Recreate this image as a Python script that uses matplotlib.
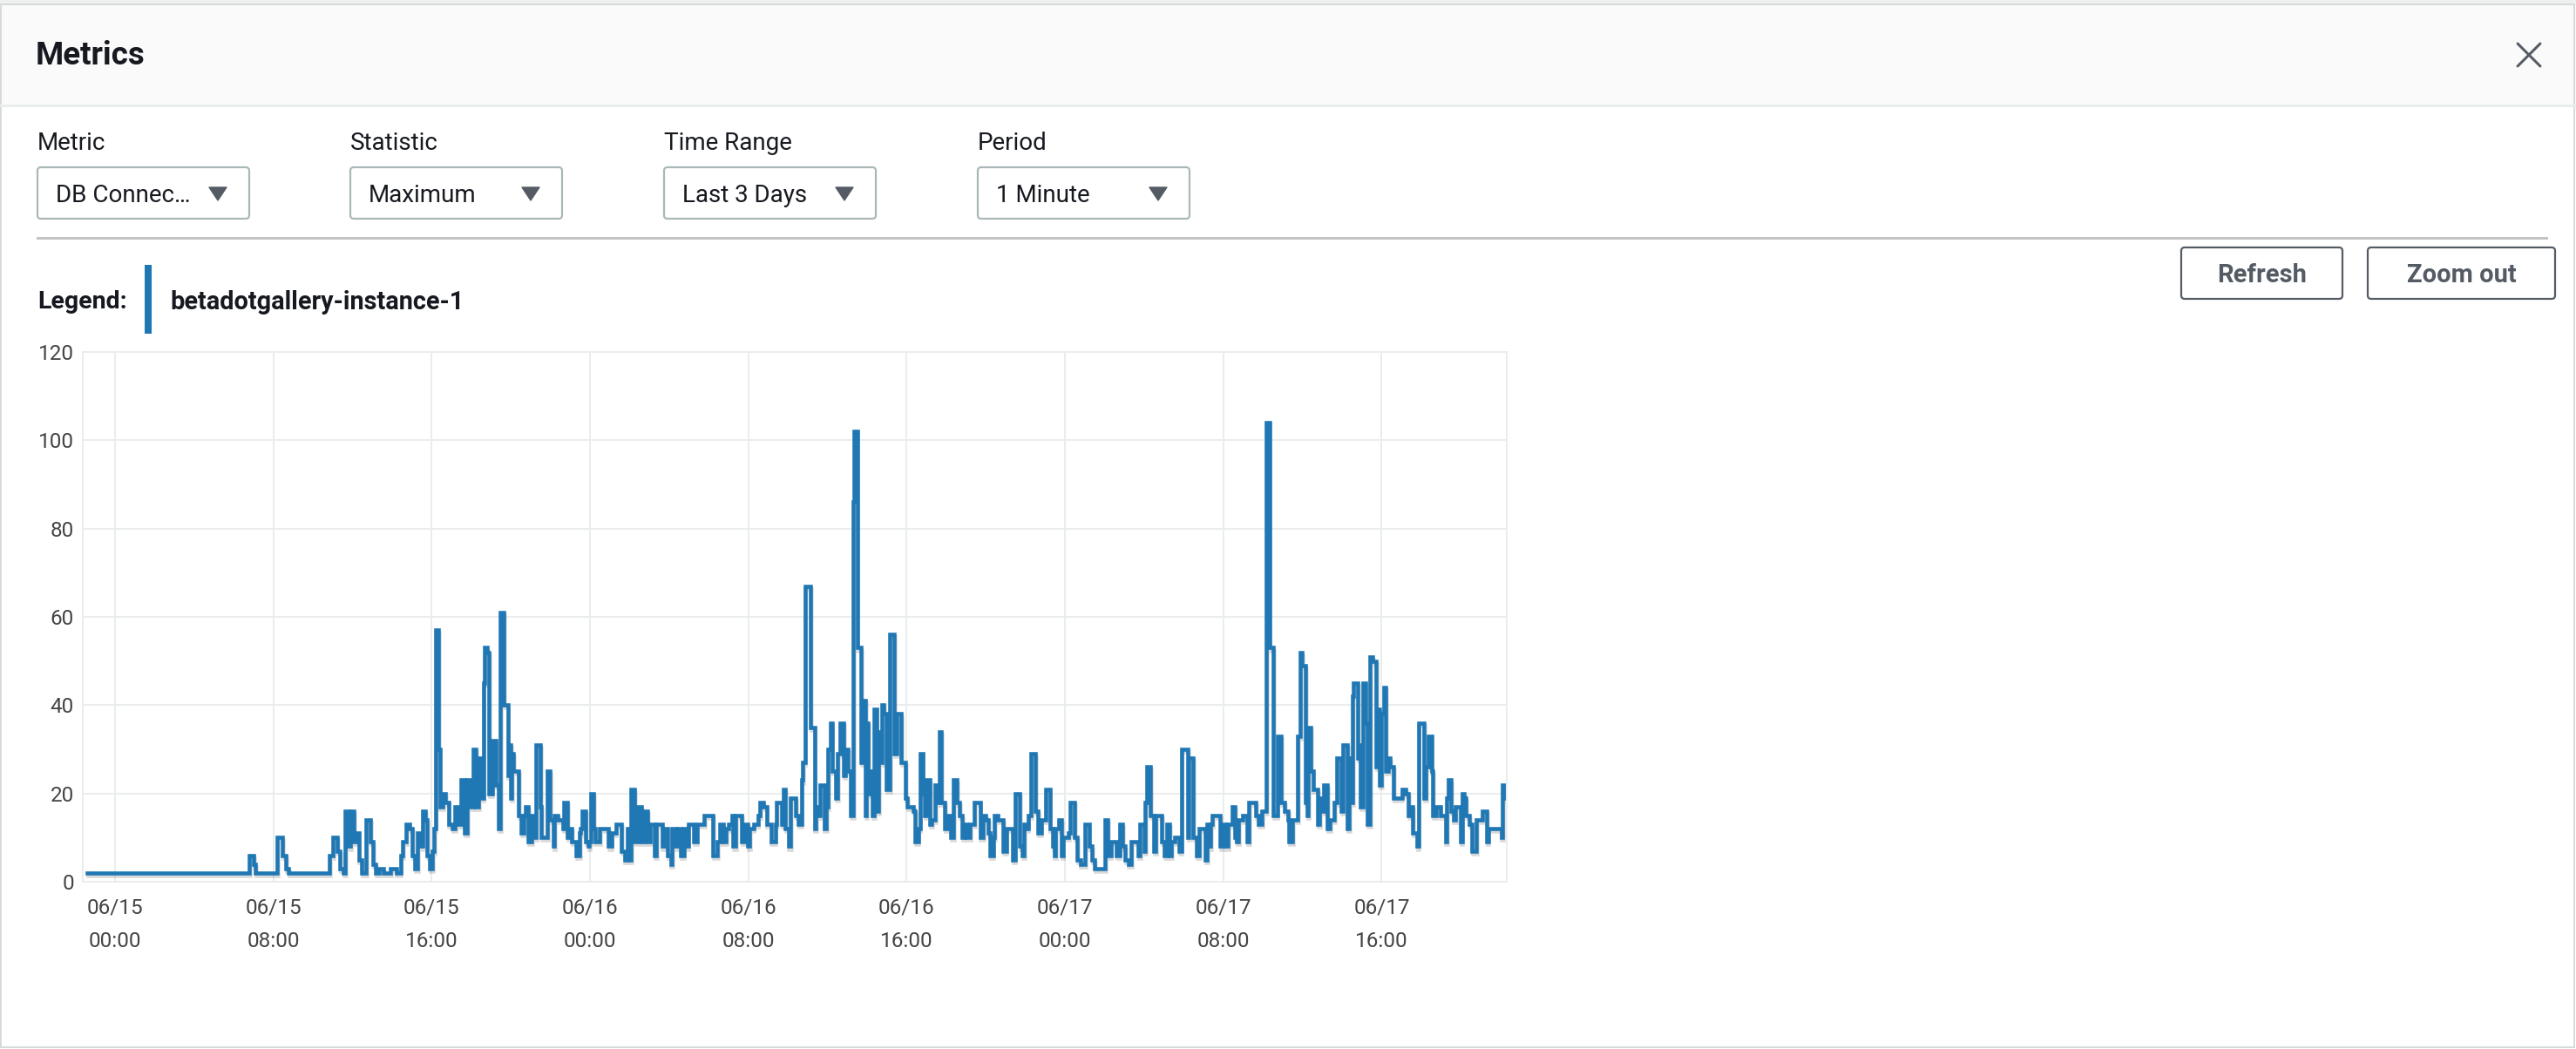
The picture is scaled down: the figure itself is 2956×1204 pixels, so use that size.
import pandas as pd
import matplotlib
matplotlib.use('Agg')
import matplotlib.pyplot as plt
import matplotlib.patheffects as pe
from matplotlib.patches import Rectangle, FancyBboxPatch, Polygon

plt.rcParams['font.family'] = ['Roboto', 'DejaVu Sans']

# hours since 06/15 00:00 where the value changes (step chart, 1 minute max)
hours = [
    -1.39, 6.80, 7.00, 7.10, 8.20, 8.45, 8.64, 8.78, 10.84, 11.03,
    11.23, 11.38, 11.53, 11.64, 11.79, 11.91, 12.06, 12.16, 12.31, 12.45,
    12.67, 12.89, 13.04, 13.19, 13.33, 13.55, 13.92, 14.21, 14.43, 14.55,
    14.70, 14.87, 15.02, 15.14, 15.28, 15.43, 15.53, 15.68, 15.78, 15.90,
    16.02, 16.12, 16.19, 16.34, 16.41, 16.56, 16.71, 16.85, 17.04, 17.19,
    17.29, 17.48, 17.66, 17.78, 17.95, 18.10, 18.25, 18.36, 18.47, 18.61,
    18.69, 18.80, 18.91, 19.05, 19.24, 19.39, 19.48, 19.65, 19.84, 19.90,
    19.98, 20.04, 20.13, 20.38, 20.53, 20.67, 20.75, 20.89, 21.04, 21.19,
    21.26, 21.48, 21.55, 21.85, 21.99, 22.14, 22.21, 22.36, 22.65, 22.70,
    22.87, 22.95, 23.09, 23.31, 23.46, 23.53, 23.61, 23.80, 23.90, 23.97,
    24.05, 24.19, 24.27, 24.49, 24.93, 25.08, 25.30, 25.59, 25.74, 25.88,
    25.96, 26.06, 26.25, 26.44, 26.59, 26.73, 26.91, 27.03, 27.28, 27.35,
    27.64, 27.79, 27.94, 28.08, 28.16, 28.30, 28.45, 28.60, 28.74, 28.89,
    28.96, 29.26, 29.40, 29.77, 30.21, 30.43, 30.58, 30.72, 30.87, 31.02,
    31.16, 31.23, 31.34, 31.67, 31.82, 31.97, 32.07, 32.26, 32.48, 32.60,
    32.77, 32.92, 33.14, 33.36, 33.43, 33.68, 33.77, 33.87, 34.02, 34.14,
    34.39, 34.53, 34.68, 34.75, 34.86, 35.15, 35.34, 35.41, 35.53, 35.63,
    35.83, 35.93, 36.03, 36.15, 36.22, 36.41, 36.52, 36.62, 36.81, 36.88,
    37.03, 37.18, 37.29, 37.35, 37.50, 37.69, 37.79, 37.91, 37.98, 38.06,
    38.17, 38.28, 38.35, 38.47, 38.57, 38.67, 38.76, 38.86, 38.97, 39.16,
    39.38, 39.52, 39.74, 39.93, 40.04, 40.33, 40.43, 40.58, 40.67, 40.80,
    40.92, 40.99, 41.17, 41.28, 41.43, 41.55, 41.65, 41.75, 41.94, 42.09,
    42.24, 42.38, 42.53, 42.68, 42.82, 42.90, 43.04, 43.19, 43.41, 43.71,
    43.86, 44.00, 44.11, 44.22, 44.37, 44.44, 44.59, 44.88, 45.03, 45.37,
    45.47, 45.72, 45.84, 45.95, 46.06, 46.13, 46.30, 46.50, 46.64, 46.79,
    47.01, 47.23, 47.38, 47.45, 47.52, 47.67, 47.82, 47.89, 48.18, 48.26,
    48.48, 48.63, 48.77, 49.00, 49.21, 49.36, 49.51, 50.02, 50.17, 50.31,
    50.61, 50.75, 50.90, 51.05, 51.19, 51.34, 51.71, 51.78, 52.00, 52.07,
    52.15, 52.32, 52.51, 52.59, 52.88, 53.03, 53.17, 53.29, 53.39, 53.54,
    53.76, 53.88, 54.20, 54.27, 54.49, 54.64, 54.79, 55.08, 55.19, 55.25,
    55.34, 55.44, 55.84, 55.96, 56.10, 56.25, 56.47, 56.57, 56.66, 56.76,
    56.98, 57.20, 57.31, 57.64, 57.79, 57.94, 58.16, 58.33, 58.52, 58.72,
    58.92, 59.11, 59.26, 59.33, 59.48, 59.77, 59.89, 59.99, 60.14, 60.24,
    60.29, 60.43, 60.53, 60.77, 60.87, 60.95, 61.06, 61.27, 61.39, 61.61,
    61.75, 61.97, 62.05, 62.27, 62.34, 62.44, 62.53, 62.59, 62.78, 62.85,
    62.93, 63.07, 63.18, 63.29, 63.41, 63.56, 63.73, 63.81, 63.91, 64.00,
    64.10, 64.20, 64.32, 64.44, 64.61, 65.02, 65.20, 65.35, 65.46, 65.57,
    65.79, 65.86, 66.15, 66.23, 66.34, 66.52, 66.59, 66.74, 66.96, 67.22,
    67.28, 67.35, 67.50, 67.62, 67.72, 67.99, 68.06, 68.16, 68.25, 68.43,
    68.57, 68.79, 69.09, 69.31, 69.38, 70.04, 70.11, 70.22, 70.27,
]
connections = [
    2, 6, 4, 2, 10, 6, 3, 2, 6, 10,
    7, 3, 2, 16, 8, 16, 9, 11, 5, 2,
    14, 9, 4, 2, 3, 2, 3, 2, 6, 9,
    13, 12, 6, 3, 11, 8, 16, 14, 6, 3,
    7, 12, 57, 30, 17, 20, 18, 13, 12, 17,
    13, 23, 11, 23, 17, 30, 17, 28, 19, 45,
    53, 52, 20, 32, 22, 12, 61, 40, 24, 31,
    19, 29, 25, 15, 11, 15, 17, 9, 15, 10,
    31, 17, 10, 25, 14, 8, 15, 14, 12, 18,
    10, 12, 9, 6, 11, 12, 16, 9, 8, 9,
    20, 12, 9, 12, 8, 11, 13, 7, 5, 12,
    5, 21, 9, 17, 9, 16, 9, 13, 6, 13,
    8, 12, 6, 4, 12, 8, 12, 6, 12, 8,
    13, 9, 13, 15, 6, 9, 13, 9, 12, 13,
    15, 8, 15, 9, 13, 8, 12, 13, 15, 18,
    17, 13, 9, 13, 18, 13, 21, 12, 8, 19,
    15, 13, 23, 27, 67, 35, 12, 17, 15, 22,
    12, 17, 30, 36, 25, 19, 29, 36, 24, 30,
    25, 15, 86, 102, 53, 27, 41, 15, 36, 20,
    25, 15, 39, 16, 34, 27, 40, 38, 21, 56,
    29, 38, 27, 19, 17, 16, 9, 12, 29, 20,
    15, 23, 13, 14, 22, 18, 34, 18, 12, 15,
    10, 23, 18, 15, 10, 13, 10, 13, 18, 10,
    15, 14, 11, 6, 10, 15, 14, 7, 12, 5,
    20, 8, 6, 13, 12, 15, 29, 16, 11, 14,
    21, 12, 8, 6, 12, 14, 6, 10, 11, 18,
    10, 5, 4, 13, 8, 5, 3, 14, 6, 9,
    6, 13, 8, 5, 4, 9, 6, 13, 7, 18,
    26, 15, 7, 15, 9, 6, 13, 6, 9, 10,
    7, 30, 10, 28, 10, 6, 12, 5, 13, 8,
    13, 15, 8, 13, 8, 13, 17, 10, 9, 14,
    15, 9, 18, 15, 13, 16, 104, 53, 15, 33,
    18, 16, 14, 9, 14, 33, 52, 49, 18, 15,
    35, 25, 21, 13, 19, 16, 22, 12, 14, 18,
    28, 16, 31, 12, 28, 18, 42, 45, 28, 31,
    17, 45, 36, 13, 51, 50, 26, 39, 22, 38,
    44, 25, 28, 26, 19, 21, 20, 15, 17, 11,
    8, 36, 19, 26, 33, 25, 15, 17, 15, 9,
    19, 23, 16, 14, 17, 9, 20, 19, 15, 13,
    7, 14, 16, 9, 12, 10, 22, 19, 19,
]
assert len(hours) == len(connections)

metric_labels = ['Metric', 'Statistic', 'Time Range', 'Period']
metric_choices = ['DB Connec\u2026', 'Maximum', 'Last 3 Days', '1 Minute']
series_name = 'betadotgallery-instance-1'
y_ticks = [0, 20, 40, 60, 80, 100, 120]

start = pd.Timestamp('2019-06-15 00:00')
times = start + pd.to_timedelta(hours, unit='h')

W, H = 2956, 1204
fig = plt.figure(figsize=(W / 100, H / 100), dpi=100)
fig.patch.set_facecolor('white')

# whole-figure axes in pixel coordinates for the dialog chrome
ui = fig.add_axes([0, 0, 1, 1])
ui.set_xlim(0, W)
ui.set_ylim(H, 0)
ui.axis('off')

dark = '#16191f'
grey = '#545b64'
pt = 0.72  # px -> pt at 100 dpi

ui.add_patch(Rectangle((0, 0), W, 5, fc='#eef0f0', ec='none'))
ui.add_patch(Rectangle((0, 5), W, 116, fc='#fafafa', ec='none'))
ui.plot([0, W], [121, 121], color='#eaeded', lw=3 * pt)
ui.add_patch(Rectangle((1, 5), W - 3, H - 7, fc='none', ec='#d5dbdb', lw=2 * pt))

ui.text(41, 64, 'Metrics', fontsize=26.5, fontweight='bold', color=dark, va='center')
ui.plot([2889, 2915], [50, 76], color=grey, lw=3 * pt, solid_capstyle='round')
ui.plot([2915, 2889], [50, 76], color=grey, lw=3 * pt, solid_capstyle='round')

box_x = [43, 402, 762, 1122]
for x, lab, val in zip(box_x, metric_labels, metric_choices):
    ui.text(x, 165, lab, fontsize=20, color=dark, va='center')
    ui.add_patch(FancyBboxPatch((x, 192), 243, 59, boxstyle='round,pad=0,rounding_size=4',
                                fc='white', ec='#aab7b8', lw=2.2 * pt))
    ui.text(x + 21, 224, val, fontsize=20, color=dark, va='center')
    ax_ = x + 207
    ui.add_patch(Polygon([(ax_ - 10, 215), (ax_ + 10, 215), (ax_, 230)], closed=True,
                         fc=grey, ec=grey, lw=1, joinstyle='round'))

ui.plot([43, 2922], [273, 273], color='#c4c4c4', lw=3 * pt)

for x0, x1, lab in [(2503, 2688, 'Refresh'), (2717, 2932, 'Zoom out')]:
    ui.add_patch(FancyBboxPatch((x0, 284), x1 - x0, 59, boxstyle='round,pad=0,rounding_size=4',
                                fc='white', ec=grey, lw=2.2 * pt))
    ui.text((x0 + x1) / 2, 316, lab, fontsize=21, fontweight='bold', color=grey,
            ha='center', va='center')

ui.text(43, 347, 'Legend:', fontsize=20.5, fontweight='bold', color=dark, va='center')
ui.add_patch(Rectangle((166, 304), 8, 79, fc='#1f77b4', ec='none'))
ui.text(195, 347, series_name, fontsize=20.8, fontweight='bold', color=dark, va='center')

# chart area
left, right, top, bottom = 94.7, 1728.5, 404, 1012
ax = fig.add_axes([left / W, 1 - bottom / H, (right - left) / W, (bottom - top) / H])
ax.set_facecolor('white')
line, = ax.step(times, connections, where='post', color='#1f77b4', lw=3.3,
                solid_joinstyle='miter')
line.set_path_effects([pe.SimpleLineShadow(offset=(0.6, -2.2), shadow_color='#000000', alpha=0.15),
                       pe.Normal()])

ax.set_ylim(0, 120)
ax.set_yticks(y_ticks)
ax.set_xlim(start - pd.Timedelta(hours=1.64), start + pd.Timedelta(hours=70.3))
tick_times = pd.date_range(start, periods=9, freq='8h')
ax.set_xticks(tick_times)
ax.set_xticklabels([t.strftime('%m/%d\n%H:%M') for t in tick_times], linespacing=1.88)
ax.grid(True, color='#eaeded', lw=2 * pt)
ax.set_axisbelow(True)
for s in ax.spines.values():
    s.set_color('#eaeded')
    s.set_linewidth(2 * pt)
ax.tick_params(length=0, labelsize=17.5, labelcolor='#444444')
ax.tick_params(axis='y', pad=7)
ax.tick_params(axis='x', pad=13)

fig.savefig('out.png', dpi=100, facecolor='white')
